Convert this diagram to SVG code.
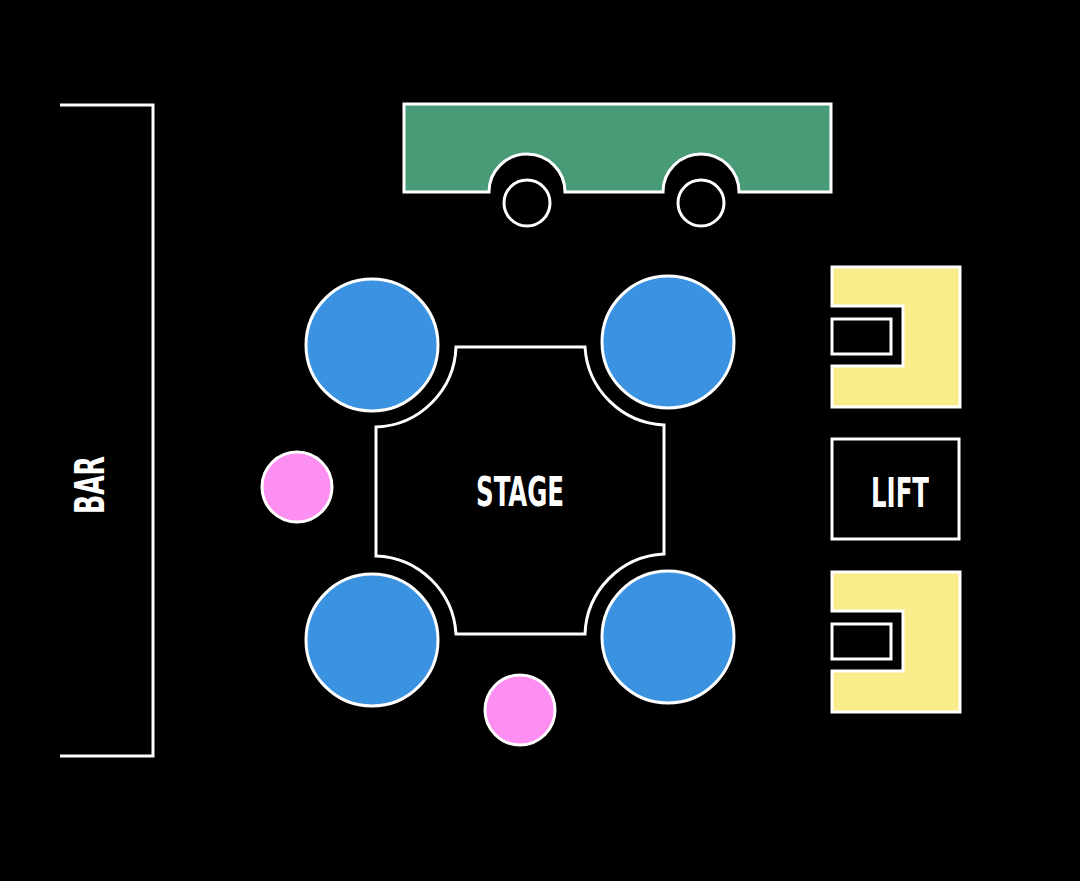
<svg xmlns="http://www.w3.org/2000/svg" width="1080" height="881" viewBox="0 0 1080 881">
<style>
.s{stroke:#fff;stroke-width:3}
.t{fill:#fff;font-family:"DejaVu Sans Condensed","DejaVu Sans",sans-serif;font-weight:bold;font-size:40px;text-anchor:middle}
.b{fill:#3b92e0}.p{fill:#fd8ef2}.y{fill:#f9ec8b}
</style>
<rect width="1080" height="881" fill="#000"/>
<g id="bar"><path class="s" fill="none" d="M60,105H153V756H60"/><text class="t" transform="translate(104,485) rotate(-90)" textLength="58" lengthAdjust="spacingAndGlyphs">BAR</text></g>
<g id="truck"><path class="s" fill="#499b77" d="M404,104H831V192H739A38,38 0 0 0 663,192H565A38,38 0 0 0 489,192H404Z"/><circle class="s" cx="527" cy="203" r="23" fill="#000"/><circle class="s" cx="701" cy="203" r="23" fill="#000"/></g>
<g id="stage"><path class="s" fill="#000" d="M456,347H585A83,83 0 0 0 664,425V554A83,83 0 0 0 585,634H456A83,83 0 0 0 376,556V427A83,83 0 0 0 456,347Z"/><text class="t" x="520" y="506" textLength="88" lengthAdjust="spacingAndGlyphs">STAGE</text></g>
<g id="tables"><circle class="s b" cx="372" cy="345" r="66"/><circle class="s b" cx="668" cy="342" r="66"/><circle class="s b" cx="372" cy="640" r="66"/><circle class="s b" cx="668" cy="637" r="66"/></g>
<g id="pink"><circle class="s p" cx="297" cy="487" r="35"/><circle class="s p" cx="520" cy="710" r="35"/></g>
<g id="booth1"><path class="s y" d="M832,267H960V407H832V366H903V306H832Z"/><rect class="s" x="832" y="319" width="59" height="35" fill="#000"/></g>
<g id="booth2"><path class="s y" d="M832,572H960V712H832V671H903V611H832Z"/><rect class="s" x="832" y="624" width="59" height="35" fill="#000"/></g>
<g id="lift"><rect class="s" x="832" y="439" width="127" height="100" fill="#000"/><text class="t" x="900" y="507" textLength="58" lengthAdjust="spacingAndGlyphs">LIFT</text></g>
</svg>
